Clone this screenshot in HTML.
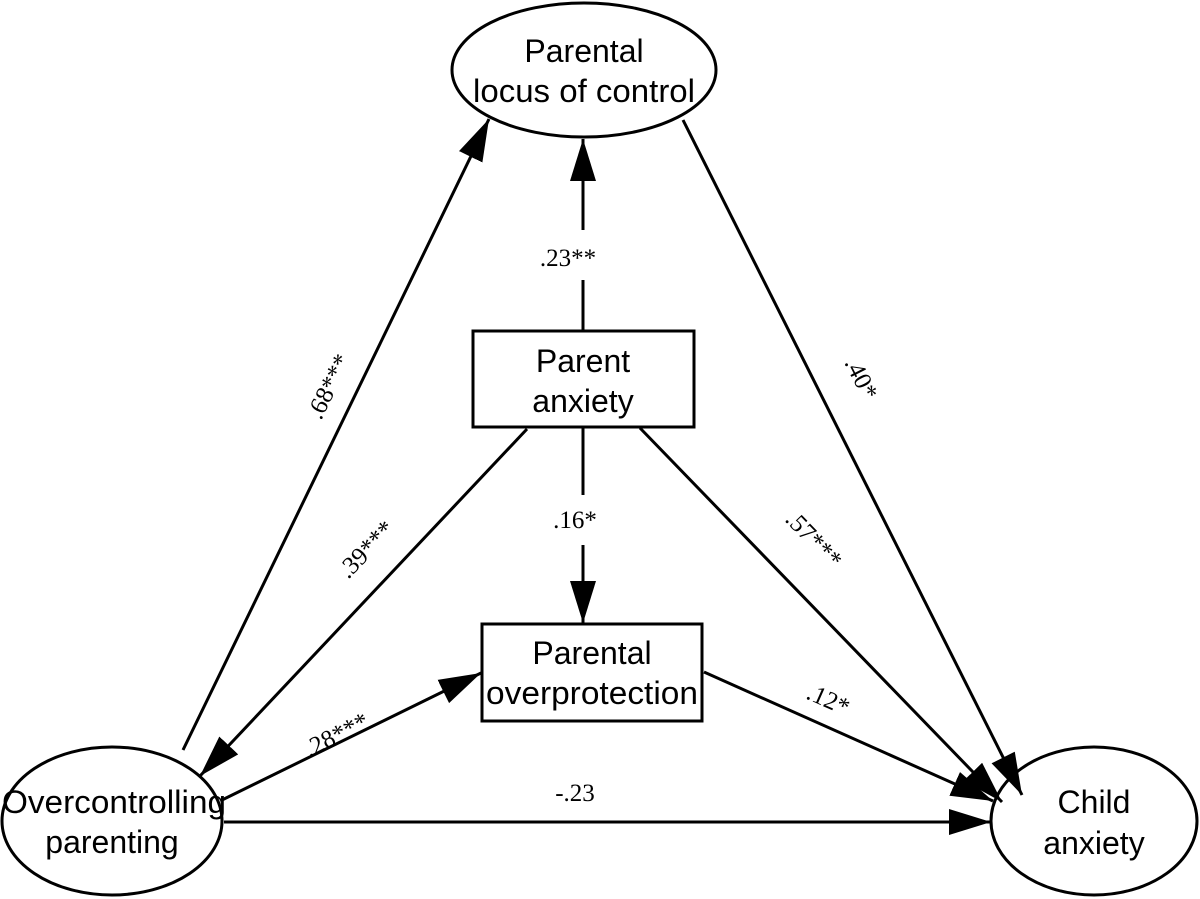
<!DOCTYPE html>
<html><head><style>
html,body{margin:0;padding:0;background:#fff;}
svg{display:block;}
.n{font-family:"Liberation Sans",Arial,sans-serif;font-size:32px;fill:#000;text-anchor:middle;}
.e{font-family:"Liberation Serif",serif;font-size:25px;fill:#000;text-anchor:middle;}
</style></head><body>
<svg width="1200" height="899" viewBox="0 0 1200 899" xmlns="http://www.w3.org/2000/svg">
<defs>
<marker id="h" viewBox="0 0 42 26" refX="42" refY="13" markerWidth="42" markerHeight="26" orient="auto" markerUnits="userSpaceOnUse">
<path d="M0,0 L42,13 L0,26 Z" fill="#000"/>
</marker>
</defs>
<g stroke="#000" stroke-width="3" fill="none">
<ellipse cx="584" cy="70" rx="132" ry="67"/>
<rect x="473" y="331" width="221" height="96"/>
<rect x="482" y="624" width="220" height="97"/>
<ellipse cx="112" cy="821" rx="110" ry="74"/>
<ellipse cx="1094" cy="821" rx="103" ry="74"/>
<line x1="583" y1="330" x2="583" y2="280"/>
<line x1="583" y1="230" x2="583" y2="139" marker-end="url(#h)"/>
<line x1="183" y1="750" x2="489" y2="119" marker-end="url(#h)"/>
<line x1="683" y1="120" x2="1022" y2="795" marker-end="url(#h)"/>
<line x1="527" y1="429" x2="200" y2="776" marker-end="url(#h)"/>
<line x1="583" y1="428" x2="583" y2="495"/>
<line x1="583" y1="545" x2="583" y2="623" marker-end="url(#h)"/>
<line x1="640" y1="428" x2="1002" y2="802" marker-end="url(#h)"/>
<line x1="704" y1="672" x2="993" y2="801" marker-end="url(#h)"/>
<line x1="222" y1="800" x2="481" y2="673" marker-end="url(#h)"/>
<line x1="224" y1="822" x2="991" y2="822" marker-end="url(#h)"/>
</g>
<text class="n" x="584" y="62">Parental</text>
<text class="n" x="584" y="102" textLength="222" lengthAdjust="spacingAndGlyphs">locus of control</text>
<text class="n" x="583" y="372">Parent</text>
<text class="n" x="583" y="412">anxiety</text>
<text class="n" x="592" y="664">Parental</text>
<text class="n" x="592" y="704" textLength="212" lengthAdjust="spacingAndGlyphs">overprotection</text>
<text class="n" x="114" y="813" textLength="224" lengthAdjust="spacingAndGlyphs">Overcontrolling</text>
<text class="n" x="112" y="853">parenting</text>
<text class="n" x="1094" y="813">Child</text>
<text class="n" x="1094" y="854">anxiety</text>
<text class="e" x="568" y="266">.23**</text>
<text class="e" x="575" y="528">.16*</text>
<text class="e" x="575" y="801">-.23</text>
<text class="e" transform="translate(336,390) rotate(-64)">.68***</text>
<text class="e" transform="translate(854,382) rotate(63)">.40*</text>
<text class="e" transform="translate(372,555) rotate(-46)">.39***</text>
<text class="e" transform="translate(808,545) rotate(46)">.57***</text>
<text class="e" transform="translate(340,742) rotate(-27)">.28***</text>
<text class="e" transform="translate(825,707) rotate(24)">.12*</text>
</svg>
</body></html>
